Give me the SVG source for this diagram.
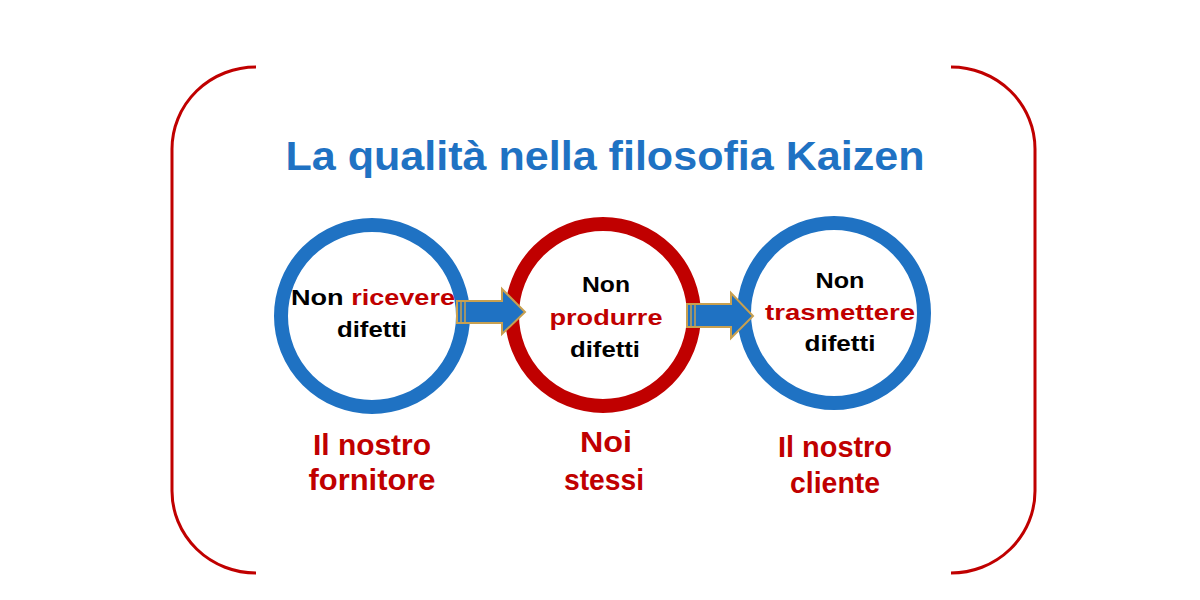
<svg xmlns="http://www.w3.org/2000/svg" width="1200" height="600" viewBox="0 0 1200 600">
<style>
.br{fill:none;stroke:#C00000;stroke-width:3}
.ring{fill:#fff;stroke-width:14}
.blue{stroke:#1F72C3}
.red{stroke:#C00000}
.t{font-family:"Liberation Sans",Arial,sans-serif;font-weight:bold;text-anchor:middle}
.in{font-size:22px;fill:#000}
.hl{fill:#C00000}
.lab{font-size:29px;fill:#C00000}
.arr{fill:#1F72C3;stroke:#C8A050;stroke-width:2}
.st{stroke:#C8A050;stroke-width:1.5}
</style>
<rect width="1200" height="600" fill="#fff"/>
<g id="frame">
<path class="br" d="M256,67 A84,82 0 0 0 172,149 L172,491 A84,82 0 0 0 256,573"/>
<path class="br" d="M951,67 A84,82 0 0 1 1035,149 L1035,491 A84,82 0 0 1 951,573"/>
</g>
<g id="title"><text class="t" x="605" y="170" font-size="40" fill="#1F72C3" textLength="639" lengthAdjust="spacingAndGlyphs">La qualità nella filosofia Kaizen</text></g>
<g id="node1">
<circle class="ring blue" cx="372" cy="316" r="91"/>
<text class="t in" x="373" y="305" textLength="164" lengthAdjust="spacingAndGlyphs">Non <tspan class="hl">ricevere</tspan></text>
<text class="t in" x="372" y="337" textLength="70" lengthAdjust="spacingAndGlyphs">difetti</text>
<text class="t lab" x="372" y="455" textLength="118" lengthAdjust="spacingAndGlyphs">Il nostro</text>
<text class="t lab" x="372" y="490" textLength="127" lengthAdjust="spacingAndGlyphs">fornitore</text>
</g>
<g id="node2">
<circle class="ring red" cx="603" cy="315" r="91"/>
<text class="t in" x="606" y="292" textLength="48" lengthAdjust="spacingAndGlyphs">Non</text>
<text class="t in hl" x="606" y="325" textLength="113" lengthAdjust="spacingAndGlyphs">produrre</text>
<text class="t in" x="605" y="357" textLength="70" lengthAdjust="spacingAndGlyphs">difetti</text>
<text class="t lab" x="606" y="452" textLength="52" lengthAdjust="spacingAndGlyphs">Noi</text>
<text class="t lab" x="604" y="490" textLength="80" lengthAdjust="spacingAndGlyphs">stessi</text>
</g>
<g id="node3">
<circle class="ring blue" cx="834" cy="313" r="90"/>
<text class="t in" x="840" y="288" textLength="49" lengthAdjust="spacingAndGlyphs">Non</text>
<text class="t in hl" x="840" y="320" textLength="150" lengthAdjust="spacingAndGlyphs">trasmettere</text>
<text class="t in" x="840" y="351" textLength="71" lengthAdjust="spacingAndGlyphs">difetti</text>
<text class="t lab" x="835" y="457" textLength="114" lengthAdjust="spacingAndGlyphs">Il nostro</text>
<text class="t lab" x="835" y="493" textLength="90" lengthAdjust="spacingAndGlyphs">cliente</text>
</g>
<g id="connectors">
<path class="arr" d="M457,301 L502,301 L502,289 L525,312 L502,334 L502,323 L457,323 Z"/>
<line class="st" x1="461" y1="302" x2="461" y2="322"/>
<line class="st" x1="465" y1="302" x2="465" y2="322"/>
<path class="arr" d="M687,304 L731,304 L731,293 L753,316 L731,338 L731,327 L687,327 Z"/>
<line class="st" x1="691" y1="305" x2="691" y2="326"/>
<line class="st" x1="695" y1="305" x2="695" y2="326"/>
</g>
</svg>
